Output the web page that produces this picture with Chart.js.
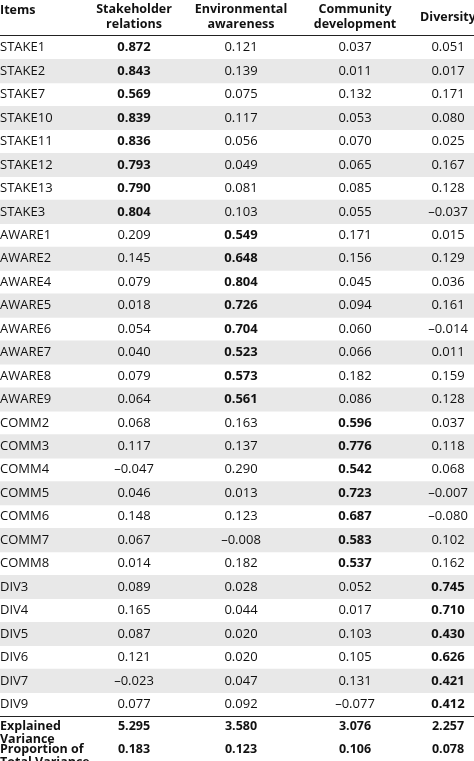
<!DOCTYPE html>
<html><head><meta charset="utf-8">
<script src="https://cdn.jsdelivr.net/npm/chart.js@4/dist/chart.umd.min.js"></script>
<style>html,body{margin:0;padding:0;background:#fff}#w{width:474px;height:761px}</style>
</head><body><div id="w"><canvas id="c"></canvas></div>
<script>
const items=["STAKE1","STAKE2","STAKE7","STAKE10","STAKE11","STAKE12","STAKE13","STAKE3","AWARE1","AWARE2","AWARE4","AWARE5","AWARE6","AWARE7","AWARE8","AWARE9","COMM2","COMM3","COMM4","COMM5","COMM6","COMM7","COMM8","DIV3","DIV4","DIV5","DIV6","DIV7","DIV9"];
const headers=[["Items"],["Stakeholder","relations"],["Environmental","awareness"],["Community","development"],["Diversity"]];
const stakeholder=[.872,.843,.569,.839,.836,.793,.790,.804,.209,.145,.079,.018,.054,.040,.079,.064,.068,.117,-.047,.046,.148,.067,.014,.089,.165,.087,.121,-.023,.077];
const environmental=[.121,.139,.075,.117,.056,.049,.081,.103,.549,.648,.804,.726,.704,.523,.573,.561,.163,.137,.290,.013,.123,-.008,.182,.028,.044,.020,.020,.047,.092];
const community=[.037,.011,.132,.053,.070,.065,.085,.055,.171,.156,.045,.094,.060,.066,.182,.086,.596,.776,.542,.723,.687,.583,.537,.052,.017,.103,.105,.131,-.077];
const diversity=[.051,.017,.171,.080,.025,.167,.128,-.037,.015,.129,.036,.161,-.014,.011,.159,.128,.037,.118,.068,-.007,-.080,.102,.162,.745,.710,.430,.626,.421,.412];
const factorOf=[0,0,0,0,0,0,0,0,1,1,1,1,1,1,1,1,2,2,2,2,2,2,2,3,3,3,3,3,3];
const summaryLabels=[["Explained","Variance"],["Proportion of","Total Variance"]];
const explained=[5.295,3.580,3.076,2.257];
const proportion=[0.183,0.123,0.106,0.078];
const cols=[stakeholder,environmental,community,diversity];
const colX=[0,134,241,355,448];
const bands=items.map((r,i)=>i%2===1?474:null);
const F='"Open Sans", sans-serif';
const fmt=v=>(v<0?'\u2013':'')+Math.abs(v).toFixed(3);
const tablePlugin={id:'tbl',afterDatasetsDraw(ch){
 const ctx=ch.ctx,xs=ch.scales.x,ys=ch.scales.y,ca=ch.chartArea;
 ctx.save();ctx.fillStyle='#111';ctx.textBaseline='middle';
 ctx.font='bold 12.5px '+F;
 headers.forEach((h,c)=>{const x=xs.getPixelForValue(colX[c]);ctx.textAlign=c===0?'left':'center';
  if(h.length===1)ctx.fillText(h[0],x,c===0?10:17);else{ctx.fillText(h[0],x,9);ctx.fillText(h[1],x,24);}});
 ctx.strokeStyle='#222';ctx.lineWidth=1;
 const yTop=ca.top-0.5;ctx.beginPath();ctx.moveTo(0,yTop);ctx.lineTo(474,yTop);ctx.stroke();
 items.forEach((it,i)=>{const y=ys.getPixelForValue(i);
  ctx.font='13px '+F;ctx.textAlign='left';ctx.fillText(it,xs.getPixelForValue(colX[0]),y);
  cols.forEach((arr,c)=>{ctx.font=(factorOf[i]===c?'bold ':'')+'13px '+F;ctx.textAlign='center';
   ctx.fillText(fmt(arr[i]),xs.getPixelForValue(colX[c+1]),y);});});
 const yl=ca.bottom+0.5;
 ctx.beginPath();ctx.moveTo(0,yl);ctx.lineTo(474,yl);ctx.stroke();
 [explained,proportion].forEach((arr,k)=>{const y=ca.bottom+10+k*23;
  ctx.font='bold 12.5px '+F;ctx.textAlign='left';
  ctx.fillText(summaryLabels[k][0],0,y);ctx.fillText(summaryLabels[k][1],0,y+13);
  arr.forEach((v,c)=>{ctx.textAlign='center';ctx.fillText(v.toFixed(3),xs.getPixelForValue(colX[c+1]),y);});});
 ctx.restore();}};
new Chart(document.getElementById('c'),{type:'bar',
 data:{labels:items,datasets:[{data:bands,backgroundColor:'#e8e8e8',barPercentage:1,categoryPercentage:1,borderWidth:0}]},
 options:{indexAxis:'y',responsive:true,maintainAspectRatio:false,animation:false,
  layout:{padding:{top:36,bottom:45,left:0,right:0}},
  plugins:{legend:{display:false},tooltip:{enabled:false}},
  scales:{x:{type:'linear',min:0,max:474,display:false},y:{display:false,grid:{display:false}}}},
 plugins:[tablePlugin]});
</script></body></html>
